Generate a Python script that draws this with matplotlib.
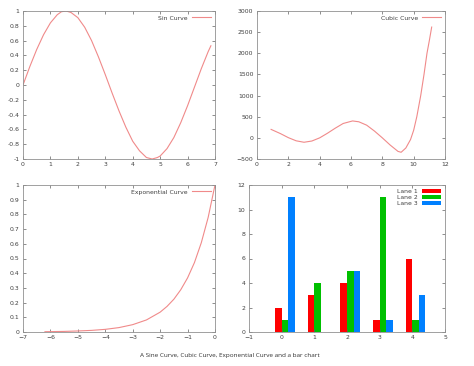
import matplotlib
matplotlib.use("Agg")
import matplotlib.pyplot as plt
from matplotlib.patches import Patch

# ---- data ----
sin_x = [0, 0.25, 0.5, 0.75, 1.0, 1.25, 1.4, 1.57, 1.75, 2.0, 2.25, 2.5, 2.75, 3.0,
         3.25, 3.5, 3.75, 4.0, 4.25, 4.5, 4.71, 4.9, 5.0, 5.25, 5.5, 5.75, 6.0,
         6.25, 6.5, 6.75, 6.85]
sin_y = [0, 0.25, 0.48, 0.68, 0.84, 0.95, 0.99, 1.0, 0.98, 0.91, 0.78, 0.6, 0.38, 0.14,
         -0.11, -0.35, -0.57, -0.76, -0.89, -0.98, -1.0, -0.98, -0.96, -0.86, -0.71,
         -0.51, -0.28, -0.03, 0.22, 0.45, 0.53]

cub_x = [0.9, 1.5, 2.0, 2.5, 3.0, 3.5, 4.0, 4.5, 5.0, 5.5, 6.1, 6.5, 7.0, 7.5, 8.0,
         8.5, 9.0, 9.2, 9.5, 9.8, 10.0, 10.2, 10.45, 10.66, 10.85, 11.0, 11.15]
cub_y = [200, 100, 5, -70, -104, -75, 0, 110, 230, 340, 400, 380, 300, 160, 0,
         -170, -320, -341, -240, -40, 180, 500, 1000, 1500, 2000, 2300, 2620]

exp_x = [-6.2, -5.5, -5.0, -4.5, -4.0, -3.5, -3.0, -2.5, -2.0, -1.75, -1.5, -1.25,
         -1.0, -0.75, -0.5, -0.25, 0.0]
exp_y = [0.002, 0.004, 0.007, 0.011, 0.018, 0.03, 0.05, 0.082, 0.135, 0.174, 0.223,
         0.287, 0.368, 0.472, 0.607, 0.779, 1.0]

bar_cats = [0, 1, 2, 3, 4]
lane1 = [2, 3, 4, 1, 6]
lane2 = [1, 4, 5, 11, 1]
lane3 = [11, 0, 5, 1, 3]
lane_names = ["Lane 1", "Lane 2", "Lane 3"]
lane_colors = ["#ff0000", "#00c000", "#0080ff"]

caption = "A Sine Curve, Cubic Curve, Exponential Curve and a bar chart"

# ---- figure ----
W, H = 474, 366
fig = plt.figure(figsize=(W / 100, H / 100), dpi=100)

def box(l, r, t, b):
    return [l / W, 1 - b / H, (r - l) / W, (b - t) / H]

FRAME = "#909090"
TXT = "#404040"
CURVE = "#f08a8a"
FS = 4.4

def style(ax):
    for s in ax.spines.values():
        s.set_color(FRAME)
        s.set_linewidth(0.6)
    ax.tick_params(direction="in", length=2.2, width=0.5, color="#606060",
                   labelsize=FS, labelcolor=TXT, top=True, right=True, pad=2.5)

def leg(ax, **kw):
    l = ax.legend(loc="upper right", frameon=False, markerfirst=False,
                  fontsize=FS, handlelength=3.0, handletextpad=0.7,
                  borderaxespad=0.3, labelspacing=0.15, **kw)
    for t in l.get_texts():
        t.set_color(TXT)
    return l

# Sine
ax1 = fig.add_axes(box(23, 215, 11, 159))
ax1.plot(sin_x, sin_y, color=CURVE, lw=0.8, label="Sin Curve")
ax1.set_xlim(0, 7)
ax1.set_ylim(-1, 1)
ax1.set_xticks(range(0, 8))
ax1.set_yticks([-1, -0.8, -0.6, -0.4, -0.2, 0, 0.2, 0.4, 0.6, 0.8, 1])
ax1.set_yticklabels(["-1", "-0.8", "-0.6", "-0.4", "-0.2", "0", "0.2", "0.4", "0.6", "0.8", "1"])
style(ax1)
leg(ax1)

# Cubic
ax2 = fig.add_axes(box(257, 445, 11, 159))
ax2.plot(cub_x, cub_y, color=CURVE, lw=0.8, label="Cubic Curve")
ax2.set_xlim(0, 12)
ax2.set_ylim(-500, 3000)
ax2.set_xticks(range(0, 13, 2))
ax2.set_yticks(range(-500, 3001, 500))
style(ax2)
leg(ax2)

# Exponential
ax3 = fig.add_axes(box(23, 215, 185, 332))
ax3.plot(exp_x, exp_y, color=CURVE, lw=0.8, label="Exponential Curve")
ax3.set_xlim(-7, 0)
ax3.set_ylim(0, 1)
ax3.set_xticks(range(-7, 1))
yt = [i / 10 for i in range(11)]
ax3.set_yticks(yt)
ax3.set_yticklabels(["0", "0.1", "0.2", "0.3", "0.4", "0.5", "0.6", "0.7", "0.8", "0.9", "1"])
style(ax3)
leg(ax3)

# Bars
ax4 = fig.add_axes(box(249, 445, 185, 332))
bw = 0.2
offs = [-0.1, 0.1, 0.3]
for vals, off, c, n in zip([lane1, lane2, lane3], offs, lane_colors, lane_names):
    ax4.bar([x + off for x in bar_cats], vals, width=bw, color=c, label=n, linewidth=0)
ax4.set_xlim(-1, 5)
ax4.set_ylim(0, 12)
ax4.set_xticks(range(-1, 6))
ax4.set_yticks(range(0, 13, 2))
style(ax4)
handles = [Patch(facecolor=c, edgecolor="none") for c in lane_colors]
l4 = ax4.legend(handles, lane_names, loc="upper right", frameon=False, markerfirst=False,
                fontsize=FS, handlelength=3.0, handleheight=0.5, handletextpad=0.7,
                borderaxespad=0.3, labelspacing=0.15)
for t in l4.get_texts():
    t.set_color(TXT)

fig.text(230 / W, 1 - 355 / H, caption, ha="center", va="center",
         fontsize=4.6, color="#303030", family="Open Sans")

fig.savefig("out.png", dpi=100)
